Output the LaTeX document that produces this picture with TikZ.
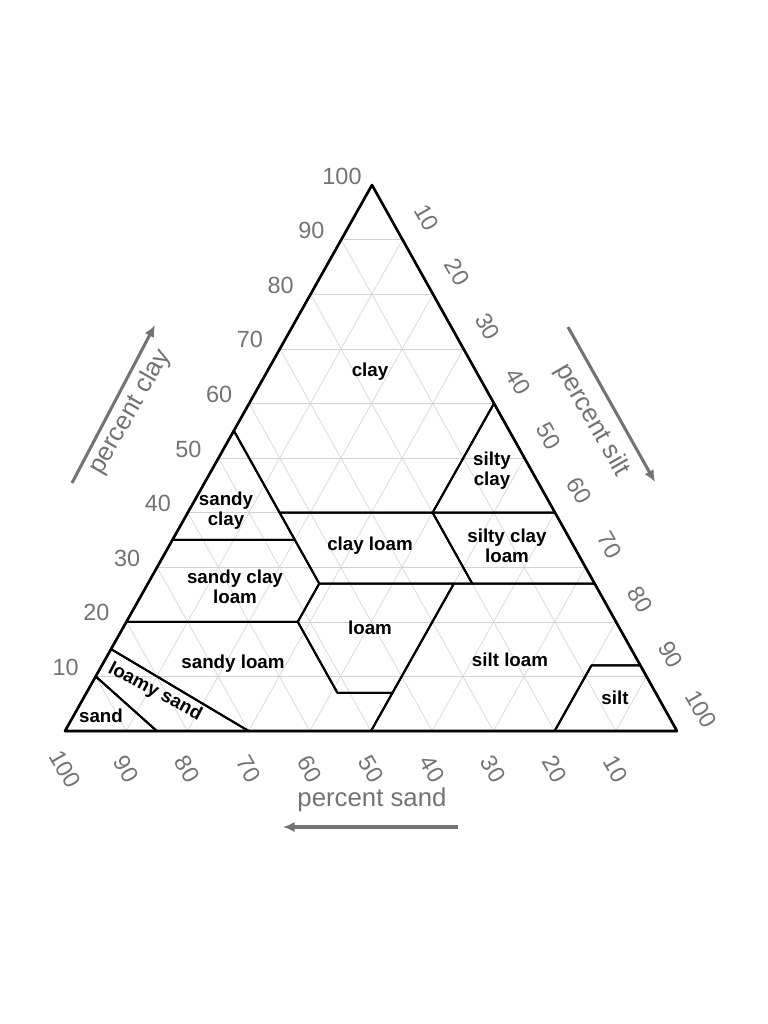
\documentclass[tikz,border=0pt]{standalone}
\usepackage{fontspec}
\setmainfont{Liberation Sans}
\usetikzlibrary{arrows.meta}
\begin{document}
\begin{tikzpicture}[x=0.03cm,y=-0.03cm,
  grid/.style={draw=black!18,line width=0.5pt},
  region/.style={draw=black,line width=1.7pt,line join=round},
  lbl/.style={font=\fontsize{16}{17}\selectfont\bfseries,align=center,inner sep=0pt},
  tick/.style={font=\fontsize{20}{20}\selectfont,text=black!55,inner sep=0pt},
  axt/.style={font=\fontsize{22}{22}\selectfont,text=black!55,inner sep=0pt},
  axarrow/.style={draw=black!55,line width=2.6pt,-{Latex[length=10pt,width=9pt]}}]
\useasboundingbox (0,0) rectangle (768,1024);
\coordinate (S) at (65,731);
\coordinate (I) at (677,731);
\coordinate (C) at (372,185);
\def\P(#1,#2,#3){({(#1)*3.72+(#2)*0.65+(#3)*6.77},{(#1)*1.85+(#2)*7.31+(#3)*7.31})}
% grid
\foreach \v in {10,20,...,90}{
  \pgfmathsetmacro\w{100-\v}
  \draw[grid] \P(\v,\w,0) -- \P(\v,0,\w);
  \draw[grid] \P(\w,\v,0) -- \P(0,\v,\w);
  \draw[grid] \P(\w,0,\v) -- \P(0,\w,\v);
}
% regions
\draw[region] \P(40,45,15) -- \P(55,45,0) -- \P(100,0,0) -- \P(60,0,40) -- \P(40,20,40) -- cycle;
\draw[region] \P(35,65,0) -- \P(55,45,0) -- \P(40,45,15) -- \P(35,45,20) -- cycle;
\draw[region] \P(40,0,60) -- \P(60,0,40) -- \P(40,20,40) -- cycle;
\draw[region] \P(27,45,28) -- \P(40,45,15) -- \P(40,20,40) -- \P(27,20,53) -- cycle;
\draw[region] \P(27,0,73) -- \P(40,0,60) -- \P(40,20,40) -- \P(27,20,53) -- cycle;
\draw[region] \P(20,80,0) -- \P(35,65,0) -- \P(35,45,20) -- \P(27,45,28) -- \P(20,52,28) -- cycle;
\draw[region] \P(27,45,28) -- \P(27,23,50) -- \P(7,43,50) -- \P(7,52,41) -- \P(20,52,28) -- cycle;
\draw[region] \P(0,50,50) -- \P(27,23,50) -- \P(27,0,73) -- \P(12,0,88) -- \P(12,8,80) -- \P(0,20,80) -- cycle;
\draw[region] \P(0,20,80) -- \P(12,8,80) -- \P(12,0,88) -- \P(0,0,100) -- cycle;
\draw[region] \P(20,80,0) -- \P(20,52,28) -- \P(7,52,41) -- \P(7,43,50) -- \P(0,50,50) -- \P(0,70,30) -- \P(15,85,0) -- cycle;
\draw[region] \P(15,85,0) -- \P(0,70,30) -- \P(0,85,15) -- \P(10,90,0) -- cycle;
\draw[region] \P(10,90,0) -- \P(0,85,15) -- \P(0,100,0) -- cycle;
\draw[line width=2.2pt,line join=round] (S) -- (I) -- (C) -- cycle;
% labels
\node[lbl] (l1) at (370,372) {clay};
\node[lbl] (l2) at (492,471) {silty\\clay};
\node[lbl] (l3) at (226,511) {sandy\\clay};
\node[lbl] (l4) at (370,546) {clay loam};
\node[lbl] (l5) at (507,546) {silty clay\\loam};
\node[lbl] (l6) at (235,587) {sandy clay\\loam};
\node[lbl] (l7) at (370,628) {loam};
\node[lbl] (l8) at (233,664) {sandy loam};
\node[lbl] (l9) at (510,660) {silt loam};
\node[lbl] (l10) at (615,698) {silt};
\node[lbl,rotate=-28] (l11) at (155,692) {loamy sand};
\node[lbl] (l12) at (101,716) {sand};
% ticks
\foreach \v in {10,20,...,100}{
  \pgfmathsetmacro\w{100-\v}
  \path \P(\v,\w,0) ++(-30,-9) node[tick] (c\v) {\v};
  \path \P(\w,0,\v) ++(24,-22) node[tick,rotate=-60] (i\v) {\v};
  \path \P(0,\v,\w) ++(0,38) node[tick,rotate=-60] (s\v) {\v};
}
% axis titles
\node[axt,rotate=60] (tc) at (130,412) {percent clay};
\node[axt,rotate=-60] (ti) at (592,420) {percent silt};
\node[axt] (ts) at (372,800) {percent sand};
\coordinate (a1) at (72,483); \coordinate (a2) at (155,325);
\coordinate (b1) at (568,327); \coordinate (b2) at (655,482);
\coordinate (d1) at (458,827); \coordinate (d2) at (283,827);
\draw[axarrow] (a1) -- (a2);
\draw[axarrow] (b1) -- (b2);
\draw[axarrow] (d1) -- (d2);
\end{tikzpicture}
\end{document}
